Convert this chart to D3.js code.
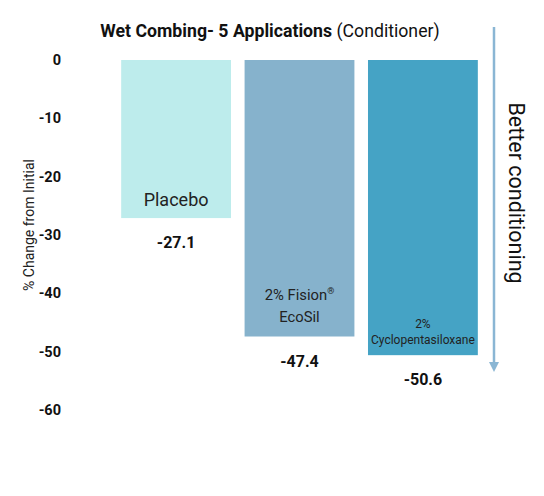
<!DOCTYPE html>
<html><head><meta charset="utf-8">
<script src="https://cdn.jsdelivr.net/npm/d3@7"></script>
<style>body{margin:0;background:#fff}text{font-family:Roboto,sans-serif}</style>
</head><body><svg id="c" width="544" height="496"></svg>
<script>
const categories = ["Placebo", "2% Fision® EcoSil", "2% Cyclopentasiloxane"];
const values = [-27.1, -47.4, -50.6];
const valueLabels = ["-27.1", "-47.4", "-50.6"];
const yTicks = [0, -10, -20, -30, -40, -50, -60];
const colors = ["#bdecec", "#86b2cc", "#45a3c5"];

const svg = d3.select("#c");
const y = d3.scaleLinear().domain([0, -60]).range([60, 410]);
const x = d3.scaleBand().domain(categories).range([115, 484]).paddingInner(0.11).paddingOuter(0.05);

// title
const t = svg.append("text").attr("x", 270).attr("y", 37).attr("text-anchor", "middle").attr("font-size", 17.7).attr("fill", "#111");
t.append("tspan").attr("font-weight", "bold").text("Wet Combing- 5 Applications ");
t.append("tspan").text("(Conditioner)");

// y axis tick labels
const ax = svg.append("g").attr("transform", "translate(61,0)")
  .call(d3.axisLeft(y).tickValues(yTicks).tickSize(0).tickPadding(0).tickFormat(d => String(d)));
ax.select(".domain").remove();
ax.selectAll("text").attr("font-size", 14.5).attr("font-weight", "bold").attr("fill", "#111").attr("font-family", "Roboto");

svg.append("text").attr("transform", "translate(34,225) rotate(-90)").attr("text-anchor", "middle")
  .attr("font-size", 14).attr("fill", "#222").text("% Change from Initial");

// bars
svg.selectAll("rect.bar").data(values).join("rect").attr("class", "bar")
  .attr("x", (d, i) => x(categories[i])).attr("width", x.bandwidth())
  .attr("y", y(0)).attr("height", d => y(d) - y(0))
  .attr("fill", (d, i) => colors[i]);

// value labels
svg.selectAll("text.val").data(values).join("text").attr("class", "val")
  .attr("x", (d, i) => x(categories[i]) + x.bandwidth() / 2)
  .attr("y", d => y(d) + 30).attr("text-anchor", "middle")
  .attr("font-size", 16).attr("font-weight", "bold").attr("fill", "#111")
  .text((d, i) => valueLabels[i]);

// in-bar labels
const cx = i => x(categories[i]) + x.bandwidth() / 2;
svg.append("text").attr("x", cx(0)).attr("y", y(values[0]) - 12).attr("text-anchor", "middle")
  .attr("font-size", 18).attr("fill", "#222").text("Placebo");
const e = svg.append("text").attr("x", cx(1)).attr("y", y(values[1]) - 37).attr("text-anchor", "middle")
  .attr("font-size", 14.8).attr("fill", "#222");
e.append("tspan").text("2% Fision");
e.append("tspan").attr("font-size", 9).attr("dy", -6).text("®");
svg.append("text").attr("x", cx(1)).attr("y", y(values[1]) - 15).attr("text-anchor", "middle")
  .attr("font-size", 14.8).attr("fill", "#222").text("EcoSil");
svg.append("text").attr("x", cx(2)).attr("y", y(values[2]) - 27).attr("text-anchor", "middle")
  .attr("font-size", 12).attr("fill", "#222").text("2%");
svg.append("text").attr("x", cx(2)).attr("y", y(values[2]) - 11).attr("text-anchor", "middle")
  .attr("font-size", 12).attr("fill", "#222").text("Cyclopentasiloxane");

// arrow
svg.append("line").attr("x1", 494).attr("x2", 494).attr("y1", 27).attr("y2", 364)
  .attr("stroke", "#8ab6d4").attr("stroke-width", 2.5);
svg.append("path").attr("d", "M489,362 L499,362 L494,372 Z").attr("fill", "#8ab6d4");
svg.append("text").attr("transform", "translate(509,193) rotate(90)").attr("text-anchor", "middle")
  .attr("font-size", 21.5).attr("fill", "#111").text("Better conditioning");
</script></body></html>
